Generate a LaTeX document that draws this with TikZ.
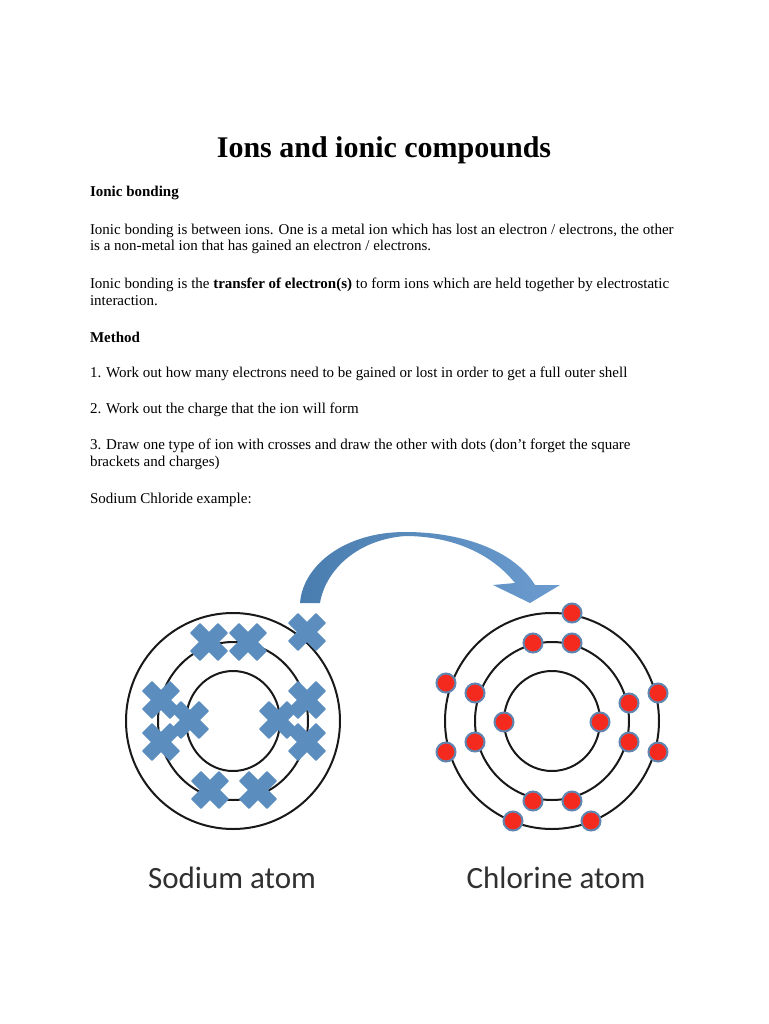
\documentclass[tikz,border=0pt]{standalone}
\usepackage{fontspec}
\setmainfont{Liberation Serif}
\newfontfamily\labelfont{Carlito}
\usetikzlibrary{shapes.geometric}
\definecolor{xblue}{HTML}{5B8DBF}
\definecolor{arrowdark}{HTML}{4A7DAF}
\definecolor{arrowlight}{HTML}{6C9CCF}
\definecolor{dotedge}{HTML}{5F86B0}
\definecolor{dotred}{HTML}{F52A1E}
\definecolor{labelgrey}{HTML}{303030}
\tikzset{
  x=1pt,y=-1pt,
  txt/.style={anchor=base west,inner sep=0pt,outer sep=0pt,font=\fontsize{15}{17}\selectfont},
  ttl/.style={anchor=base,inner sep=0pt,font=\fontsize{30}{34}\selectfont\bfseries},
  shell/.style={draw=black!90,line width=2pt},
  atomlabel/.style={anchor=base,inner sep=0pt,text=labelgrey,font=\fontsize{31}{34}\selectfont\labelfont},
  dotnode/.style={circle,draw=dotedge,line width=2pt,fill=dotred,minimum size=19pt,inner sep=0pt},
  crossnode/.style={inner sep=0pt,minimum size=44pt,
    path picture={
      \fill[xblue,draw=xblue,line width=1.6pt,line join=round]
        (path picture bounding box.center)
        ++(-9,-18) -- ++(9,9) -- ++(9,-9) -- ++(9,9) -- ++(-9,9) -- ++(9,9)
        -- ++(-9,9) -- ++(-9,-9) -- ++(-9,9) -- ++(-9,-9) -- ++(9,-9) -- ++(-9,-9) -- cycle;
    }},
}
\begin{document}
\begin{tikzpicture}
\useasboundingbox (0,0) rectangle (768,1024);
\fill[white] (0,0) rectangle (768,1024);

\node[ttl] (title) at (384,158) {Ions and ionic compounds};
\node[txt] (t1) at (90,197) {\bfseries Ionic bonding};
\node[txt] (t2) at (90,234) {Ionic bonding is between ions. One is a metal ion which has lost an electron / electrons, the other};
\node[txt] (t3) at (90,251) {is a non-metal ion that has gained an electron / electrons.};
\node[txt] (t4) at (90,288) {Ionic bonding is the \textbf{transfer of electron(s)} to form ions which are held together by electrostatic};
\node[txt] (t5) at (90,305) {interaction.};
\node[txt] (t6) at (90,342) {\bfseries Method};
\node[txt] (t7) at (90,377) {1. Work out how many electrons need to be gained or lost in order to get a full outer shell};
\node[txt] (t8) at (90,413) {2. Work out the charge that the ion will form};
\node[txt] (t9) at (90,449) {3. Draw one type of ion with crosses and draw the other with dots (don’t forget the square};
\node[txt] (t10) at (90,466) {brackets and charges)};
\node[txt] (t11) at (90,503) {Sodium Chloride example:};

% shells
\foreach \n/\cx/\rx/\ry in {nao/233/107/108,nam/233/75/79,nai/233/47/50,clo/552/107/108,clm/552/77/79,cli/552/48/50}
  \draw[shell] (\cx,721) ellipse [x radius=\rx,y radius=\ry];

% arrow
\shade[left color=arrowdark,right color=arrowlight]
  (300,603) .. controls (303,565) and (345,532) .. (405,532)
  .. controls (465,532) and (515,552) .. (535,585)
  -- (560,585) -- (530,603) -- (493,585) -- (515,583)
  .. controls (490,552) and (450,536) .. (405,536)
  .. controls (355,540) and (325,572) .. (320,603) -- cycle;

% crosses
\foreach \n/\x/\y in {a/209/642,b/248/642,c/307/632,d/161/700,e/161/742,f/190/720,g/278/720,h/307/700,i/307/742,j/210/790,k/258/790}
  \node[crossnode] (x\n) at (\x,\y) {};

% dots
\foreach \n/\x/\y in {a/572/613,b/533/643,c/572/643,d/446/683,e/475/693,f/504/722,g/600/722,h/629/703,i/658/693,j/475/742,k/629/742,l/446/752,m/658/752,n/533/801,o/572/801,p/513/821,q/591/821}
  \node[dotnode] (d\n) at (\x,\y) {};

\node[atomlabel] (na) at (232,888) {Sodium atom};
\node[atomlabel] (cl) at (556,888) {Chlorine atom};
\end{tikzpicture}
\end{document}
